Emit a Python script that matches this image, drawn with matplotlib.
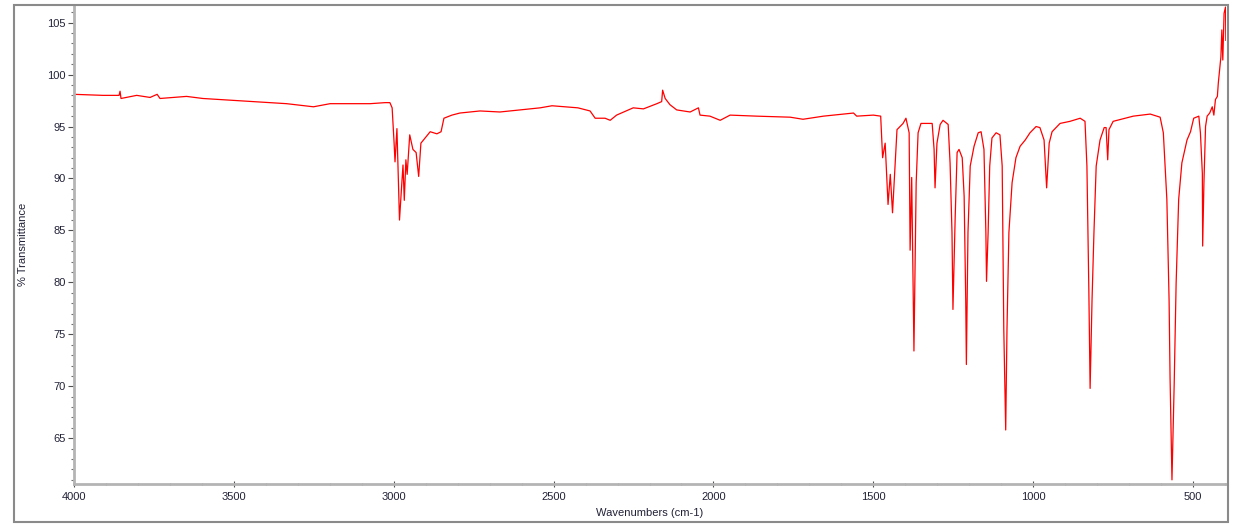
import matplotlib
matplotlib.use("Agg")
import matplotlib.pyplot as plt
from matplotlib.patches import Rectangle
from matplotlib.ticker import MultipleLocator

plt.rcParams['font.family'] = ['Liberation Sans', 'DejaVu Sans']

# IR spectrum (wavenumber in cm-1, % transmittance)
wavenumber = [
    4000, 3909, 3859, 3856, 3853, 3804, 3762, 3740, 3731, 3648,
    3597, 3491, 3387, 3335, 3251, 3199, 3074, 3027, 3012, 3005,
    2999, 2996, 2990, 2982, 2977, 2974, 2971, 2967, 2962, 2958,
    2950, 2940, 2930, 2922, 2915, 2899, 2886, 2865, 2852, 2843,
    2818, 2793, 2730, 2668, 2542, 2505, 2424, 2386, 2370, 2339,
    2323, 2303, 2251, 2219, 2177, 2162, 2159, 2151, 2136, 2115,
    2073, 2047, 2042, 2011, 1979, 1948, 1865, 1760, 1720, 1656,
    1562, 1552, 1500, 1477, 1471, 1463, 1454, 1447, 1440, 1432,
    1426, 1407, 1398, 1388, 1385, 1380, 1373, 1366, 1360, 1351,
    1316, 1310, 1307, 1301, 1291, 1282, 1266, 1260, 1254, 1251,
    1244, 1238, 1232, 1222, 1216, 1211, 1209, 1204, 1197, 1185,
    1172, 1163, 1154, 1148, 1146, 1141, 1136, 1129, 1116, 1104,
    1097, 1092, 1086, 1082, 1076, 1066, 1054, 1041, 1025, 1010,
    991, 979, 966, 958, 950, 941, 916, 885, 853, 838,
    832, 826, 822, 816, 810, 803, 791, 778, 772, 767,
    763, 750, 687, 634, 603, 593, 582, 575, 572, 566,
    559, 553, 545, 535, 519, 508, 498, 482, 477, 471,
    470, 466, 461, 456, 448, 440, 435, 430, 424, 421,
    413, 410, 407, 405, 403, 398.5, 397.5,
]
transmittance = [
    98.1, 98.0, 98.0, 98.4, 97.7, 98.0, 97.8, 98.1, 97.7, 97.9,
    97.7, 97.5, 97.3, 97.2, 96.9, 97.2, 97.2, 97.3, 97.3, 96.8,
    93.5, 91.6, 94.8, 86.0, 88.5, 89.9, 91.3, 87.9, 91.8, 90.4,
    94.2, 92.8, 92.5, 90.2, 93.4, 94.0, 94.5, 94.3, 94.5, 95.8,
    96.1, 96.3, 96.5, 96.4, 96.8, 97.0, 96.8, 96.5, 95.8, 95.8,
    95.6, 96.1, 96.8, 96.7, 97.2, 97.4, 98.5, 97.7, 97.1, 96.6,
    96.4, 96.8, 96.1, 96.0, 95.6, 96.1, 96.0, 95.9, 95.7, 96.0,
    96.3, 96.0, 96.1, 96.0, 92.0, 93.4, 87.5, 90.4, 86.7, 91.2,
    94.7, 95.3, 95.8, 94.4, 83.1, 90.1, 73.4, 89.6, 94.4, 95.3,
    95.3, 92.8, 89.1, 93.4, 95.2, 95.6, 95.2, 91.5, 84.8, 77.4,
    86.3, 92.5, 92.8, 92.0, 88.3, 78.3, 72.1, 84.8, 91.2, 93.1,
    94.4, 94.5, 92.8, 84.8, 80.1, 84.8, 91.2, 93.9, 94.4, 94.2,
    91.2, 75.5, 65.8, 75.5, 84.8, 89.6, 92.0, 93.1, 93.7, 94.4,
    95.0, 94.9, 93.7, 89.1, 93.4, 94.5, 95.3, 95.5, 95.8, 95.5,
    91.2, 79.3, 69.8, 78.3, 84.8, 91.2, 93.7, 94.9, 94.9, 91.8,
    94.7, 95.5, 96.0, 96.2, 95.9, 94.4, 88.0, 78.3, 70.9, 61.0,
    70.3, 79.9, 88.0, 91.5, 93.7, 94.5, 95.8, 96.0, 94.4, 90.5,
    83.5, 89.6, 95.0, 96.0, 96.3, 96.9, 96.1, 97.6, 97.9, 99.2,
    101.7, 104.3, 101.4, 103.7, 105.9, 106.5, 103.3,
]

W, H = 1244, 526
fig = plt.figure(figsize=(W / 100, H / 100), dpi=100)
ax = fig.add_axes([74 / W, 1 - 484 / H, (1226 - 74) / W, (484 - 6) / H])

ax.plot(wavenumber, transmittance, color='red', lw=0.9)

ax.set_xlim(4000, 397)
ax.set_ylim(60.6, 106.6)
ax.xaxis.set_major_locator(MultipleLocator(500))
ax.xaxis.set_minor_locator(MultipleLocator(100))
ax.yaxis.set_major_locator(MultipleLocator(5))
ax.yaxis.set_minor_locator(MultipleLocator(1))

for s in ['top', 'right']:
    ax.spines[s].set_visible(False)
for s in ['left', 'bottom']:
    ax.spines[s].set_color('#b4b4b4')
    ax.spines[s].set_linewidth(2)

ax.tick_params(axis='both', which='major', labelsize=8, labelcolor='#222238',
               color='#505050', width=0.8, length=4, pad=2)
ax.tick_params(axis='both', which='minor', color='#707070', width=0.8, length=2)
ax.tick_params(axis='x', which='both', direction='inout', pad=4)

# outer frame round the whole chart
fig.patches.append(Rectangle((14 / W, 1 - 522 / H), (1228 - 14) / W, (522 - 5) / H,
                             transform=fig.transFigure, fill=False,
                             edgecolor='#8a8a8a', lw=1.5))

fig.text(23 / W, 1 - 244 / H, '% Transmittance', rotation=90,
         ha='center', va='center', fontsize=8, color='#222238')
fig.text(650 / W, 1 - 513 / H, 'Wavenumbers (cm-1)',
         ha='center', va='center', fontsize=8, color='#222238')

fig.savefig('out.png', dpi=100)
